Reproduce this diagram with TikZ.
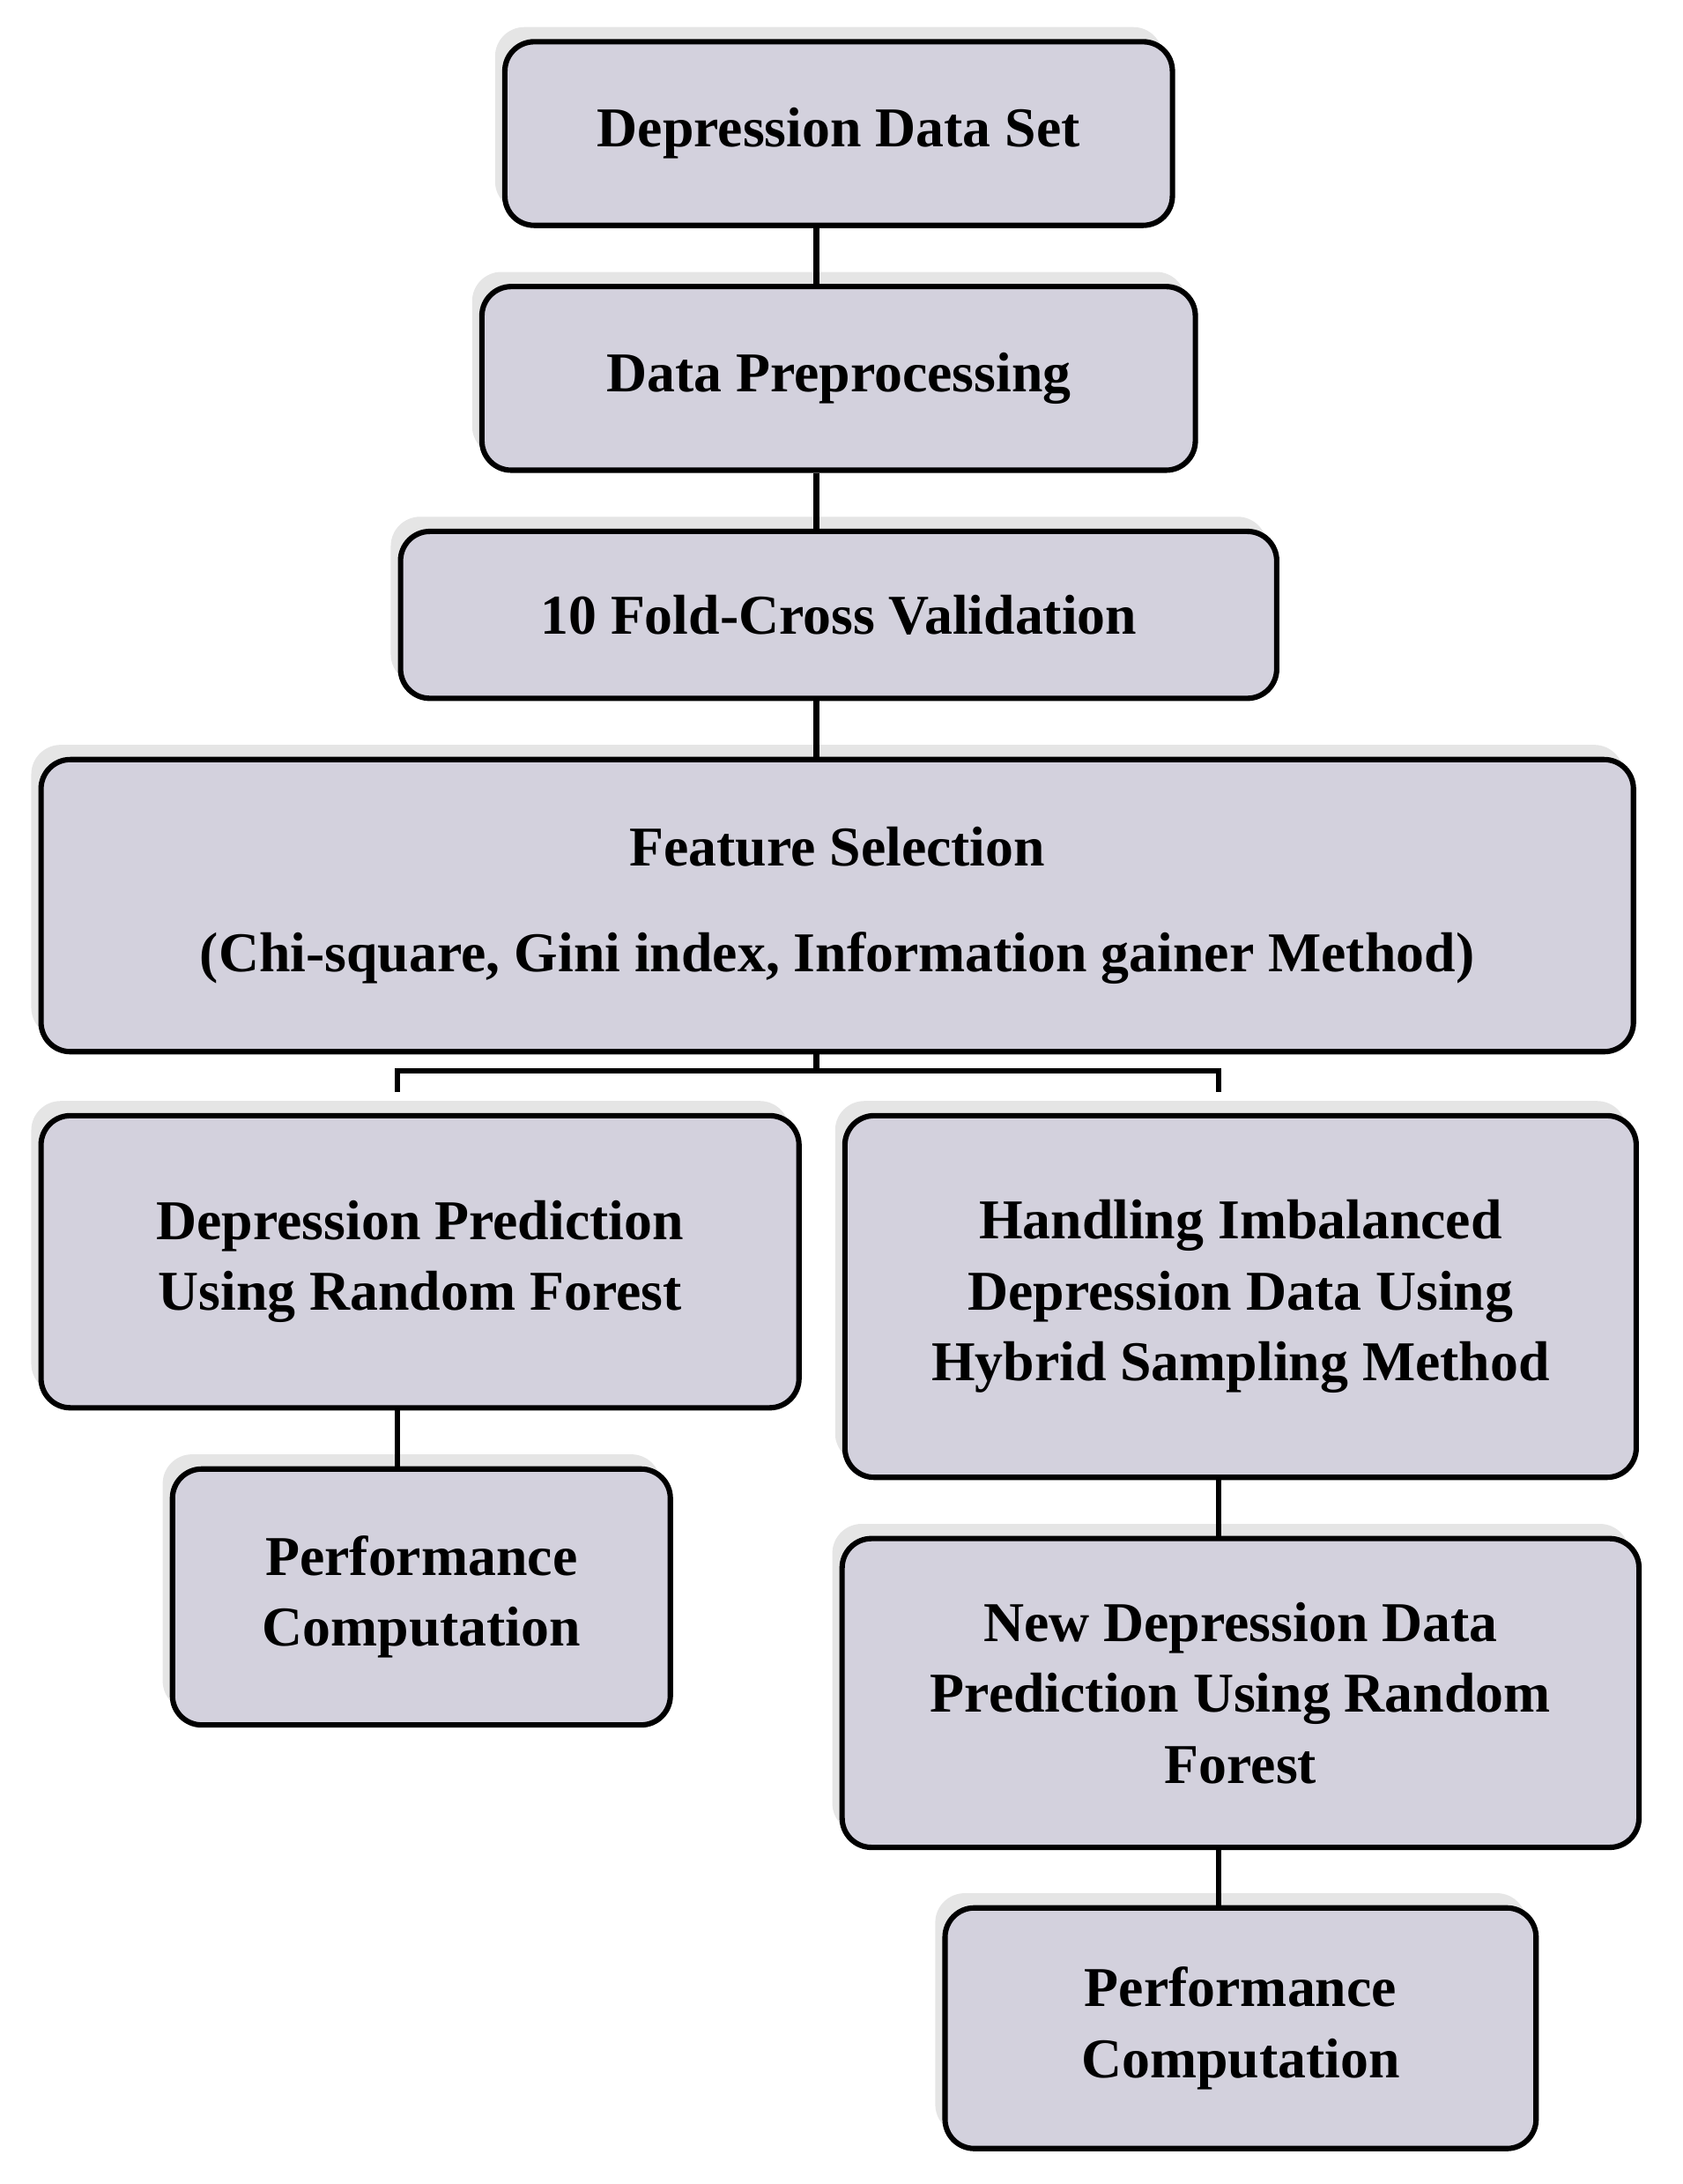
\documentclass[tikz,border=0pt]{standalone}
\usepackage{fontspec}
\setmainfont{Liberation Serif}
\usetikzlibrary{shadows}
\definecolor{boxfill}{RGB}{211,209,221}
\begin{document}
\begin{tikzpicture}[x=0.02cm,y=-0.02cm,
  box/.style={draw, line width=2.2pt, rounded corners=12pt, fill=boxfill, align=center,
    font=\fontsize{23}{29}\selectfont\bfseries, inner sep=0pt,
    drop shadow={shadow xshift=-4pt, shadow yshift=6pt, fill=gray!25, opacity=0.8}},
  link/.style={line width=2.2pt}]
\useasboundingbox (0,0) rectangle (1210,1570);
\node[box, minimum width=480*0.02cm, minimum height=132*0.02cm] (data) at (603,96) {Depression Data Set};
\node[box, minimum width=513*0.02cm, minimum height=132*0.02cm] (pre) at (603,272) {Data Preprocessing};
\node[box, minimum width=630*0.02cm, minimum height=120*0.02cm] (cv) at (603,442) {10 Fold-Cross Validation};
\node[box, minimum width=1145*0.02cm, minimum height=210*0.02cm] (fs) at (602,651) {Feature Selection\\[14pt](Chi-square, Gini index, Information gainer Method)};
\node[box, minimum width=545*0.02cm, minimum height=210*0.02cm] (rf) at (302,907) {Depression Prediction\\Using Random Forest};
\node[box, minimum width=569*0.02cm, minimum height=260*0.02cm] (hyb) at (892,932) {Handling Imbalanced\\Depression Data Using\\Hybrid Sampling Method};
\node[box, minimum width=358*0.02cm, minimum height=184*0.02cm] (perf1) at (303,1148) {Performance\\Computation};
\node[box, minimum width=573*0.02cm, minimum height=222*0.02cm] (newrf) at (892,1217) {New Depression Data\\Prediction Using Random\\Forest};
\node[box, minimum width=425*0.02cm, minimum height=173*0.02cm] (perf2) at (892,1458) {Performance\\Computation};
\coordinate (fork) at (587,770);
\draw[link] (data.south -| fork) -- (pre.north -| fork);
\draw[link] (pre.south -| fork) -- (cv.north -| fork);
\draw[link] (cv.south -| fork) -- (fs.north -| fork);
\draw[link] (fs.south -| fork) -- (fork);
\draw[link] (286,785) -- (286,770) -- (876,770) -- (876,785);
\draw[link] (rf.south -| 286,0) -- (perf1.north -| 286,0);
\draw[link] (hyb.south -| 876,0) -- (newrf.north -| 876,0);
\draw[link] (newrf.south -| 876,0) -- (perf2.north -| 876,0);
\end{tikzpicture}
\end{document}
